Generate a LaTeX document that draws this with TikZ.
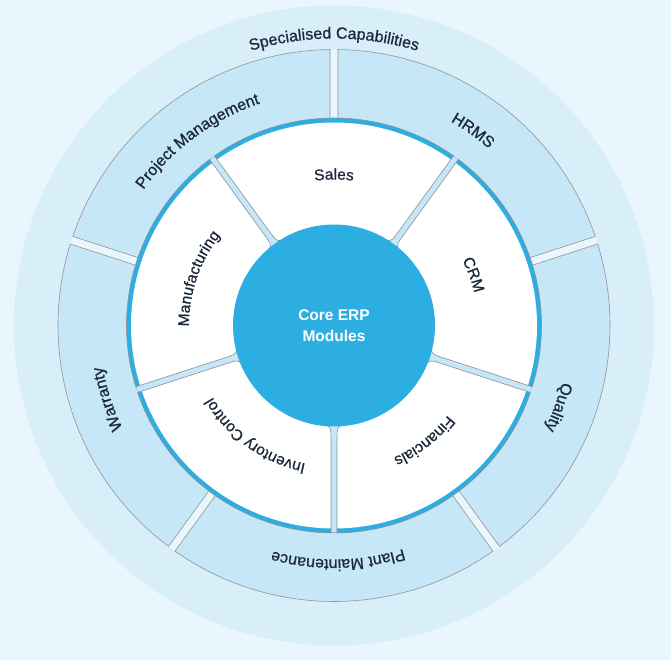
\documentclass[tikz,border=0pt]{standalone}
\usepackage{fontspec}
\setmainfont{Liberation Sans}
\newfontfamily\medfont{Liberation Sans}[FakeBold=0.8]
\usetikzlibrary{decorations.text}
\definecolor{bgc}{HTML}{E9F6FD}
\definecolor{bandc}{HTML}{D8EEF9}
\definecolor{secc}{HTML}{C6E7F7}
\definecolor{gapc}{HTML}{EAF6FD}
\definecolor{bluec}{HTML}{2DAEE3}
\definecolor{linec}{HTML}{939393}
\definecolor{txtc}{HTML}{1C2939}
% outer ring sector with parallel-sided gaps
\newcommand\ringsector[6]{% #1 style, #2 gA, #3 gB, #4 rin, #5 rout, #6 half gap
 \pgfmathsetmacro\aOs{#2-asin(#6/#5)}%
 \pgfmathsetmacro\aOe{#3+asin(#6/#5)}%
 \pgfmathsetmacro\aIs{#3+asin(#6/#4)}%
 \pgfmathsetmacro\aIe{#2-asin(#6/#4)}%
 \path[#1] (\aOs:#5pt) arc[start angle=\aOs, end angle=\aOe, radius=#5pt] -- (\aIs:#4pt) arc[start angle=\aIs, end angle=\aIe, radius=#4pt] -- cycle;%
}
% inner sector with flared gap near the core
\newcommand\innersector[5]{% #1 style, #2 gA, #3 gB, #4 rout, #5 half gap
 \pgfmathsetmacro\aOs{#2-asin(#5/#4)}%
 \pgfmathsetmacro\aOe{#3+asin(#5/#4)}%
 \pgfmathsetmacro\bF{#3+asin(#5/118)}%
 \pgfmathsetmacro\bC{#3+asin(#5/102)}%
 \pgfmathsetmacro\bP{#3+asin(8/100)}%
 \pgfmathsetmacro\cP{#2-asin(8/100)}%
 \pgfmathsetmacro\cC{#2-asin(#5/102)}%
 \pgfmathsetmacro\cF{#2-asin(#5/118)}%
 \path[#1] (\aOs:#4pt) arc[start angle=\aOs, end angle=\aOe, radius=#4pt] -- (\bF:118pt) .. controls (\bC:102pt) .. (\bP:100pt) arc[start angle=\bP, end angle=\cP, radius=100pt] .. controls (\cC:102pt) .. (\cF:118pt) -- cycle;%
}
\newcommand\innermodule[2]{%
 \innersector{bluesec}{#1}{#2}{207.5}{3}%
 \innersector{whitesec}{#1}{#2}{203}{3}%
 \innersector{secline}{#1}{#2}{207.5}{3}%
}
\newcommand\arclabel[5]{% #1 centre angle, #2 baseline radius, #3 half span, #4 size, #5 text
 \pgfmathsetmacro\lA{#1+#3}%
 \pgfmathsetmacro\lB{#1-#3}%
 \path[decorate, decoration={text along path, text align=center, text color=txtc,
   text={|\medfont\fontsize{#4}{#4}\selectfont|#5}}]
   (\lA:#2pt) arc[start angle=\lA, end angle=\lB, radius=#2pt];%
}
\begin{document}
\begin{tikzpicture}[
  outersec/.style={fill=secc, draw=linec, line width=0.6pt},
  bluesec/.style={fill=bluec},
  whitesec/.style={fill=white},
  secline/.style={draw=linec, line width=0.6pt},
  corestyle/.style={circle, fill=bluec, minimum size=202pt, inner sep=0pt,
    text=white, align=center, font=\fontsize{15.5}{21}\selectfont\bfseries}
]
\fill[bgc] (-334pt,-334.5pt) rectangle (337pt,325.5pt);
\useasboundingbox (-334pt,-334.5pt) rectangle (337pt,325.5pt);
\fill[bandc] (0,0) circle[radius=320pt];
\fill[gapc] (0,0) circle[radius=276pt];
% outer ring: specialised capabilities
\ringsector{outersec}{162}{90}{207}{276}{4}
\ringsector{outersec}{90}{18}{207}{276}{4}
\ringsector{outersec}{18}{-54}{207}{276}{4}
\ringsector{outersec}{-54}{-126}{207}{276}{4}
\ringsector{outersec}{234}{162}{207}{276}{4}
\fill[secc] (0,0) circle[radius=207pt];
% inner ring: core modules
\innermodule{126}{54}
\innermodule{54}{-18}
\innermodule{-18}{-90}
\innermodule{-90}{-162}
\innermodule{198}{126}
\node[corestyle] (core) at (0,0) {Core ERP\\Modules};
% labels
\arclabel{90}{146}{40}{15.5}{Sales}
\arclabel{20}{144}{40}{15.5}{CRM}
\arclabel{-52}{145}{40}{15.5}{Financials}
\arclabel{-125.5}{141}{40}{15.5}{Inventory Control}
\arclabel{161}{145}{40}{15.5}{Manufacturing}
\arclabel{126.5}{234}{35}{16}{Project Management}
\arclabel{54.5}{235}{35}{16}{HRMS}
\arclabel{-20}{235}{35}{16}{Quality}
\arclabel{-89}{234}{35}{16}{Plant Maintenance}
\arclabel{198}{235}{35}{16}{Warranty}
\arclabel{90}{287}{35}{16}{Specialised Capabilities}
\end{tikzpicture}
\end{document}
